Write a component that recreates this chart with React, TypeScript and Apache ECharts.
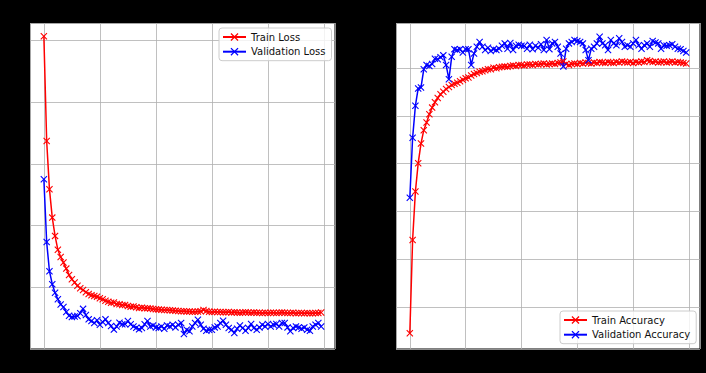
import { useEffect, useRef } from "react";
import * as echarts from "echarts";

const trainLoss = [
  2.532, 1.685, 1.293, 1.064, 0.916, 0.803, 0.745, 0.7, 0.651, 0.6,
  0.565, 0.538, 0.513, 0.492, 0.478, 0.46, 0.446, 0.435, 0.43, 0.424,
  0.411, 0.403, 0.391, 0.383, 0.375, 0.376, 0.364, 0.362, 0.356, 0.357,
  0.348, 0.343, 0.344, 0.338, 0.332, 0.335, 0.331, 0.33, 0.328, 0.324,
  0.321, 0.32, 0.318, 0.316, 0.315, 0.314, 0.312, 0.31, 0.308, 0.306,
  0.305, 0.304, 0.303, 0.302, 0.301, 0.303, 0.306, 0.315, 0.308, 0.302,
  0.3, 0.301, 0.299, 0.3, 0.298, 0.297, 0.299, 0.296, 0.297, 0.295,
  0.294, 0.296, 0.297, 0.295, 0.294, 0.296, 0.293, 0.294, 0.292, 0.294,
  0.292, 0.294, 0.293, 0.291, 0.293, 0.296, 0.294, 0.292, 0.291, 0.293,
  0.29, 0.292, 0.291, 0.29, 0.292, 0.29, 0.289, 0.291, 0.292, 0.296,
];

const valLoss = [
  1.374, 0.866, 0.63, 0.525, 0.455, 0.403, 0.36, 0.34, 0.3, 0.27,
  0.259, 0.264, 0.267, 0.29, 0.325, 0.275, 0.24, 0.226, 0.21, 0.232,
  0.197, 0.218, 0.24, 0.21, 0.186, 0.157, 0.183, 0.213, 0.2, 0.2,
  0.226, 0.2, 0.183, 0.172, 0.159, 0.17, 0.2, 0.226, 0.183, 0.191,
  0.175, 0.17, 0.183, 0.164, 0.191, 0.183, 0.196, 0.175, 0.196, 0.21,
  0.121, 0.156, 0.143, 0.183, 0.21, 0.237, 0.196, 0.164, 0.148, 0.156,
  0.156, 0.175, 0.183, 0.21, 0.229, 0.196, 0.17, 0.156, 0.129, 0.164,
  0.191, 0.17, 0.148, 0.17, 0.202, 0.17, 0.156, 0.175, 0.196, 0.183,
  0.202, 0.183, 0.196, 0.202, 0.183, 0.21, 0.21, 0.175, 0.143, 0.17,
  0.183, 0.175, 0.164, 0.175, 0.156, 0.148, 0.183, 0.196, 0.21, 0.183,
];

const trainAcc = [
  0.2465, 0.441, 0.542, 0.601, 0.642, 0.67, 0.686, 0.703, 0.717, 0.728,
  0.737, 0.745, 0.75, 0.756, 0.76, 0.764, 0.767, 0.769, 0.772, 0.775,
  0.778, 0.78, 0.784, 0.787, 0.789, 0.792, 0.793, 0.795, 0.797, 0.797,
  0.8, 0.799, 0.801, 0.802, 0.803, 0.802, 0.804, 0.805, 0.804, 0.806,
  0.806, 0.805, 0.807, 0.807, 0.806, 0.808, 0.807, 0.808, 0.809, 0.807,
  0.808, 0.809, 0.808, 0.81, 0.811, 0.813, 0.808, 0.806, 0.808, 0.809,
  0.808, 0.81, 0.809, 0.811, 0.81, 0.809, 0.811, 0.81, 0.812, 0.811,
  0.81, 0.812, 0.811, 0.81, 0.812, 0.811, 0.813, 0.812, 0.811, 0.812,
  0.81, 0.812, 0.811, 0.813, 0.812, 0.816, 0.814, 0.812, 0.813, 0.811,
  0.812, 0.813, 0.811, 0.812, 0.813, 0.811, 0.812, 0.811, 0.81, 0.809,
];

const valAcc = [
  0.529, 0.654, 0.721, 0.757, 0.759, 0.797, 0.806, 0.804, 0.808, 0.819,
  0.818, 0.822, 0.826, 0.806, 0.776, 0.823, 0.839, 0.837, 0.839, 0.832,
  0.839, 0.839, 0.806, 0.83, 0.844, 0.854, 0.844, 0.837, 0.842, 0.835,
  0.839, 0.837, 0.84, 0.846, 0.851, 0.84, 0.852, 0.837, 0.846, 0.848,
  0.846, 0.846, 0.84, 0.848, 0.839, 0.846, 0.842, 0.849, 0.837, 0.858,
  0.839, 0.851, 0.854, 0.844, 0.83, 0.803, 0.84, 0.851, 0.854, 0.858,
  0.856, 0.854, 0.851, 0.837, 0.816, 0.84, 0.844, 0.851, 0.865, 0.851,
  0.847, 0.837, 0.858, 0.851, 0.847, 0.8615, 0.854, 0.844, 0.847, 0.844,
  0.851, 0.858, 0.847, 0.84, 0.847, 0.851, 0.844, 0.856, 0.853, 0.851,
  0.84, 0.847, 0.846, 0.847, 0.849, 0.844, 0.84, 0.839, 0.835, 0.832,
];

const lossLegend = ["Train Loss", "Validation Loss"];
const accLegend = ["Train Accuracy", "Validation Accuracy"];

const X_SYMBOL =
  "path://M0,1.1L1.1,0L5,3.9L8.9,0L10,1.1L6.1,5L10,8.9L8.9,10L5,6.1L1.1,10L0,8.9L3.9,5Z";
const FONT = "DejaVu Sans";
const GRID_LINE = { show: true, lineStyle: { color: "#b0b0b0", width: 0.8 } };

function pairs(values: number[]) {
  return values.map((v, i) => [i, v]);
}

function lineSeries(name: string, values: number[], color: string, axis: number) {
  return {
    name,
    type: "line",
    xAxisIndex: axis,
    yAxisIndex: axis,
    data: pairs(values),
    symbol: X_SYMBOL,
    symbolSize: 7,
    showSymbol: true,
    showAllSymbol: true,
    lineStyle: { color, width: 1.5 },
    itemStyle: { color },
    emphasis: { disabled: true },
  };
}

function legendFor(names: string[], left: number, top: number) {
  return {
    data: names,
    orient: "vertical",
    left,
    top,
    padding: [3, 6, 3, 3],
    itemGap: 2.7,
    itemWidth: 23,
    itemHeight: 10,
    backgroundColor: "rgba(255,255,255,0.8)",
    borderColor: "#cccccc",
    borderWidth: 1,
    borderRadius: 3,
    textStyle: { fontFamily: FONT, fontSize: 10, color: "#111", lineHeight: 12 },
    selectedMode: false,
  };
}

function xAxisFor(gridIndex: number) {
  return {
    type: "value",
    gridIndex,
    min: -4.95,
    max: 103.95,
    splitNumber: 5,
    axisLine: { show: false },
    axisTick: { show: false },
    axisLabel: { show: false },
    splitLine: GRID_LINE,
  };
}

export default function App() {
  const ref = useRef<HTMLDivElement>(null);
  useEffect(() => {
    if (!ref.current) return;
    const chart = echarts.init(ref.current, undefined, { renderer: "svg" });
    chart.setOption({
      animation: false,
      backgroundColor: "#000000",
      grid: [
        { left: 30, top: 23, width: 305, height: 326, show: true, backgroundColor: "#ffffff", borderColor: "#000", borderWidth: 1 },
        { left: 396, top: 23, width: 304, height: 326, show: true, backgroundColor: "#ffffff", borderColor: "#000", borderWidth: 1 },
      ],
      xAxis: [xAxisFor(0), xAxisFor(1)],
      yAxis: [
        {
          type: "value",
          gridIndex: 0,
          min: 0,
          max: 2.64,
          interval: 0.5,
          axisLine: { show: false },
          axisTick: { show: false },
          axisLabel: { show: false },
          splitLine: GRID_LINE,
        },
        {
          type: "value",
          gridIndex: 1,
          min: 0.2135,
          max: 0.8935,
          splitNumber: 6,
          axisLine: { show: false },
          axisTick: { show: false },
          axisLabel: { show: false },
          splitLine: GRID_LINE,
        },
      ],
      legend: [legendFor(lossLegend, 219, 28), legendFor(accLegend, 560, 311)],
      series: [
        lineSeries(lossLegend[0], trainLoss, "#ff0000", 0),
        lineSeries(lossLegend[1], valLoss, "#0000ff", 0),
        lineSeries(accLegend[0], trainAcc, "#ff0000", 1),
        lineSeries(accLegend[1], valAcc, "#0000ff", 1),
      ],
    });
    return () => chart.dispose();
  }, []);
  return (
    <div
      ref={ref}
      style={{ position: "fixed", left: 0, top: 0, width: 706, height: 373, background: "#000" }}
    />
  );
}
